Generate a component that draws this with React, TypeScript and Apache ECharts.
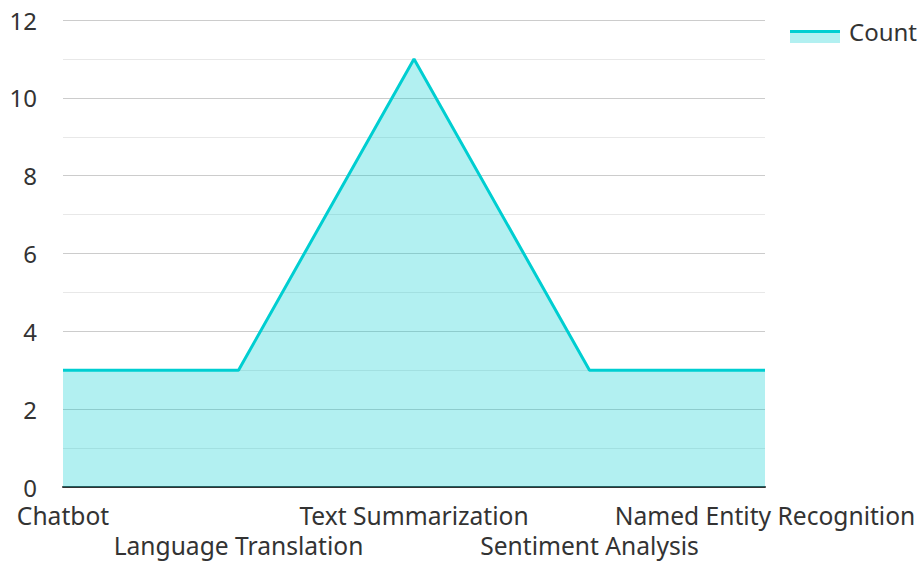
import React, { useEffect, useRef } from "react";
import * as echarts from "echarts";

const categories = [
  "Chatbot",
  "Language Translation",
  "Text Summarization",
  "Sentiment Analysis",
  "Named Entity Recognition",
];
const countValues = [3, 3, 11, 3, 3];
const seriesName = "Count";

const FONT = "'Noto Sans', 'Open Sans', sans-serif";
const LINE_COLOR = "#00CED1";
const TEXT_COLOR = "#333333";

export default function App() {
  const ref = useRef<HTMLDivElement>(null);
  useEffect(() => {
    if (!ref.current) return;
    const chart = echarts.init(ref.current, null, { renderer: "svg" });
    chart.setOption({
      animation: false,
      textStyle: { fontFamily: FONT },
      grid: {
        left: 63,
        right: 157,
        top: 20,
        bottom: 74,
        containLabel: false,
        outerBoundsMode: "none",
      },
      legend: {
        show: true,
        right: 0,
        top: 14,
        itemWidth: 50,
        itemHeight: 14,
        itemGap: 10,
        icon: "rect",
        itemStyle: { color: "rgba(0,0,0,0)" },
        textStyle: { fontSize: 24, color: TEXT_COLOR, fontFamily: FONT },
        data: [seriesName],
      },
      graphic: [
        {
          type: "rect",
          shape: { x: 790, y: 30, width: 50, height: 13 },
          style: { fill: "rgba(0,206,209,0.3)" },
          silent: true,
          z: 100,
        },
        {
          type: "line",
          shape: { x1: 790, y1: 31.5, x2: 840, y2: 31.5 },
          style: { stroke: LINE_COLOR, lineWidth: 3 },
          silent: true,
          z: 101,
        },
      ],
      xAxis: {
        type: "category",
        data: categories,
        boundaryGap: false,
        axisLine: { show: true, lineStyle: { color: "#333333", width: 2 } },
        axisTick: { show: false },
        axisLabel: {
          interval: 0,
          fontSize: 24.6,
          color: TEXT_COLOR,
          lineHeight: 30,
          margin: 13,
          fontFamily: FONT,
          formatter: (v: string, i: number) => (i % 2 === 1 ? "\n" + v : v),
        },
        splitLine: { show: false },
      },
      yAxis: {
        type: "value",
        min: 0,
        max: 12,
        interval: 2,
        axisLine: { show: false },
        axisTick: { show: false },
        axisLabel: {
          fontSize: 24,
          color: TEXT_COLOR,
          margin: 26,
          lineHeight: 14,
          fontFamily: FONT,
        },
        splitLine: { show: true, lineStyle: { color: "#cccccc", width: 1 } },
        minorTick: { show: false, splitNumber: 2 },
        minorSplitLine: { show: true, lineStyle: { color: "#e8e8e8", width: 1 } },
      },
      series: [
        {
          name: seriesName,
          type: "line",
          data: countValues,
          showSymbol: false,
          symbol: "none",
          lineStyle: { color: LINE_COLOR, width: 3 },
          itemStyle: { color: LINE_COLOR },
          areaStyle: { color: LINE_COLOR, opacity: 0.3 },
        },
      ],
    });
    return () => chart.dispose();
  }, []);
  return (
    <div
      ref={ref}
      style={{ position: "absolute", left: 0, top: 0, width: 922, height: 561 }}
    />
  );
}
